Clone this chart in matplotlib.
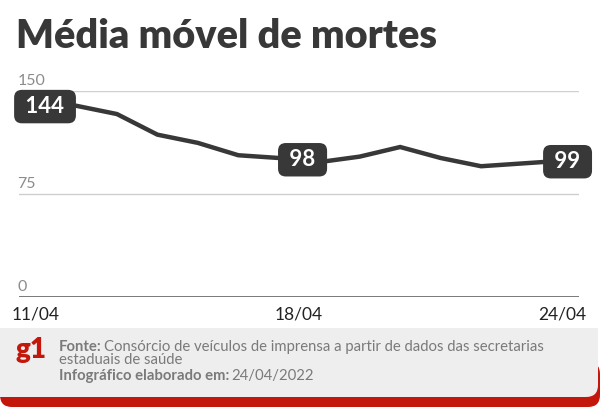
import matplotlib
matplotlib.use("Agg")
import matplotlib.pyplot as plt
from matplotlib.patches import FancyBboxPatch, Rectangle
from matplotlib.transforms import offset_copy

# dados (média móvel de mortes, 11/04 a 24/04)
dias = ["11/04", "12/04", "13/04", "14/04", "15/04", "16/04", "17/04",
        "18/04", "19/04", "20/04", "21/04", "22/04", "23/04", "24/04"]
media_movel = [144, 139, 133, 118, 112, 103, 101, 98, 102, 109, 101, 95, 97, 99]
destaques = {0: "144", 7: "98", 13: "99"}
y_ticks = [0, 75, 150]

W, H = 600, 415
fig = plt.figure(figsize=(W / 100, H / 100), dpi=100)
plt.rcParams['font.family'] = ['Lato', 'DejaVu Sans']

dark = '#383838'

# fundo / rodapé
bg = fig.add_axes([0, 0, 1, 1], zorder=0)
bg.set_xlim(0, W)
bg.set_ylim(H, 0)
bg.axis('off')
bg.add_patch(FancyBboxPatch((0, 362), W, 45, boxstyle="round,pad=0,rounding_size=12",
                            fc='#c4170c', ec='none'))
bg.add_patch(FancyBboxPatch((-20, 328), 618, 69, boxstyle="round,pad=0,rounding_size=12",
                            fc='#eeeeef', ec='none'))
bg.add_patch(Rectangle((-20, 328), 618, 20, fc='#eeeeef', ec='none'))

# título
bg.text(16, 48, "Média móvel de mortes", fontsize=28.5, fontweight='heavy',
        color=dark, ha='left', va='baseline')

# logo g1 e fonte
bg.text(16, 358, "g1", fontsize=20, fontweight='heavy', color='#c4170c',
        ha='left', va='baseline')
grey = '#7a7a7a'
fs = 10.7
fig.canvas.draw()
r = fig.canvas.get_renderer()


def rich(x, y, bold, rest):
    t = bg.text(x, y, bold, fontsize=fs, fontweight='bold', color=grey,
                ha='left', va='baseline')
    bb = t.get_window_extent(renderer=r)
    bg.text(x + bb.width + 2, y, rest, fontsize=fs, color=grey,
            ha='left', va='baseline')


rich(59, 351, "Fonte:", "Consórcio de veículos de imprensa a partir de dados das secretarias")
bg.text(59, 364, "estaduais de saúde", fontsize=fs, color=grey, ha='left', va='baseline')
rich(59, 380, "Infográfico elaborado em:", "24/04/2022")

# gráfico
ax = fig.add_axes([19 / W, (H - 296.7) / H, 560 / W, 206 / H], zorder=1)
ax.patch.set_alpha(0)
x = list(range(len(dias)))
ax.set_xlim(-0.42, len(dias) - 1 + 0.42)
ax.set_ylim(0, 150)

for v in y_ticks:
    if v == 0:
        ax.axhline(v, color='#6e6e6e', lw=1.3, zorder=1)
    else:
        ax.axhline(v, color='#cfcfcf', lw=1, zorder=1)
    ax.text(0, v, str(v), transform=offset_copy(ax.get_yaxis_transform(), fig=fig, x=-1, y=2, units='points'),
            ha='left', va='bottom', fontsize=11.5, color='#8c8c8c')

ax.plot(x, media_movel, color=dark, lw=3.2, solid_joinstyle='miter', zorder=2)

meio = (len(dias) - 1) / 2
ax.set_xticks([0, meio, len(dias) - 1])
ax.set_xticklabels([dias[0], dias[7], dias[-1]])
ax.tick_params(axis='x', length=0, pad=7, labelsize=12.5, labelcolor='#222222')
ax.set_yticks([])
for s in ax.spines.values():
    s.set_visible(False)

offs = {0: (6.5, -5.5), 7: (-12, 1.7), 13: (4, -0.7)}
for i, txt in destaques.items():
    ax.annotate(" " + txt + " ", (x[i], media_movel[i]), xytext=offs[i], textcoords='offset points',
                ha='center', va='center', fontsize=16, fontweight='bold', color='white',
                bbox=dict(boxstyle='round,pad=0.28,rounding_size=0.35', fc=dark, ec='none'),
                zorder=3, annotation_clip=False)

fig.savefig("out.png", dpi=100)
